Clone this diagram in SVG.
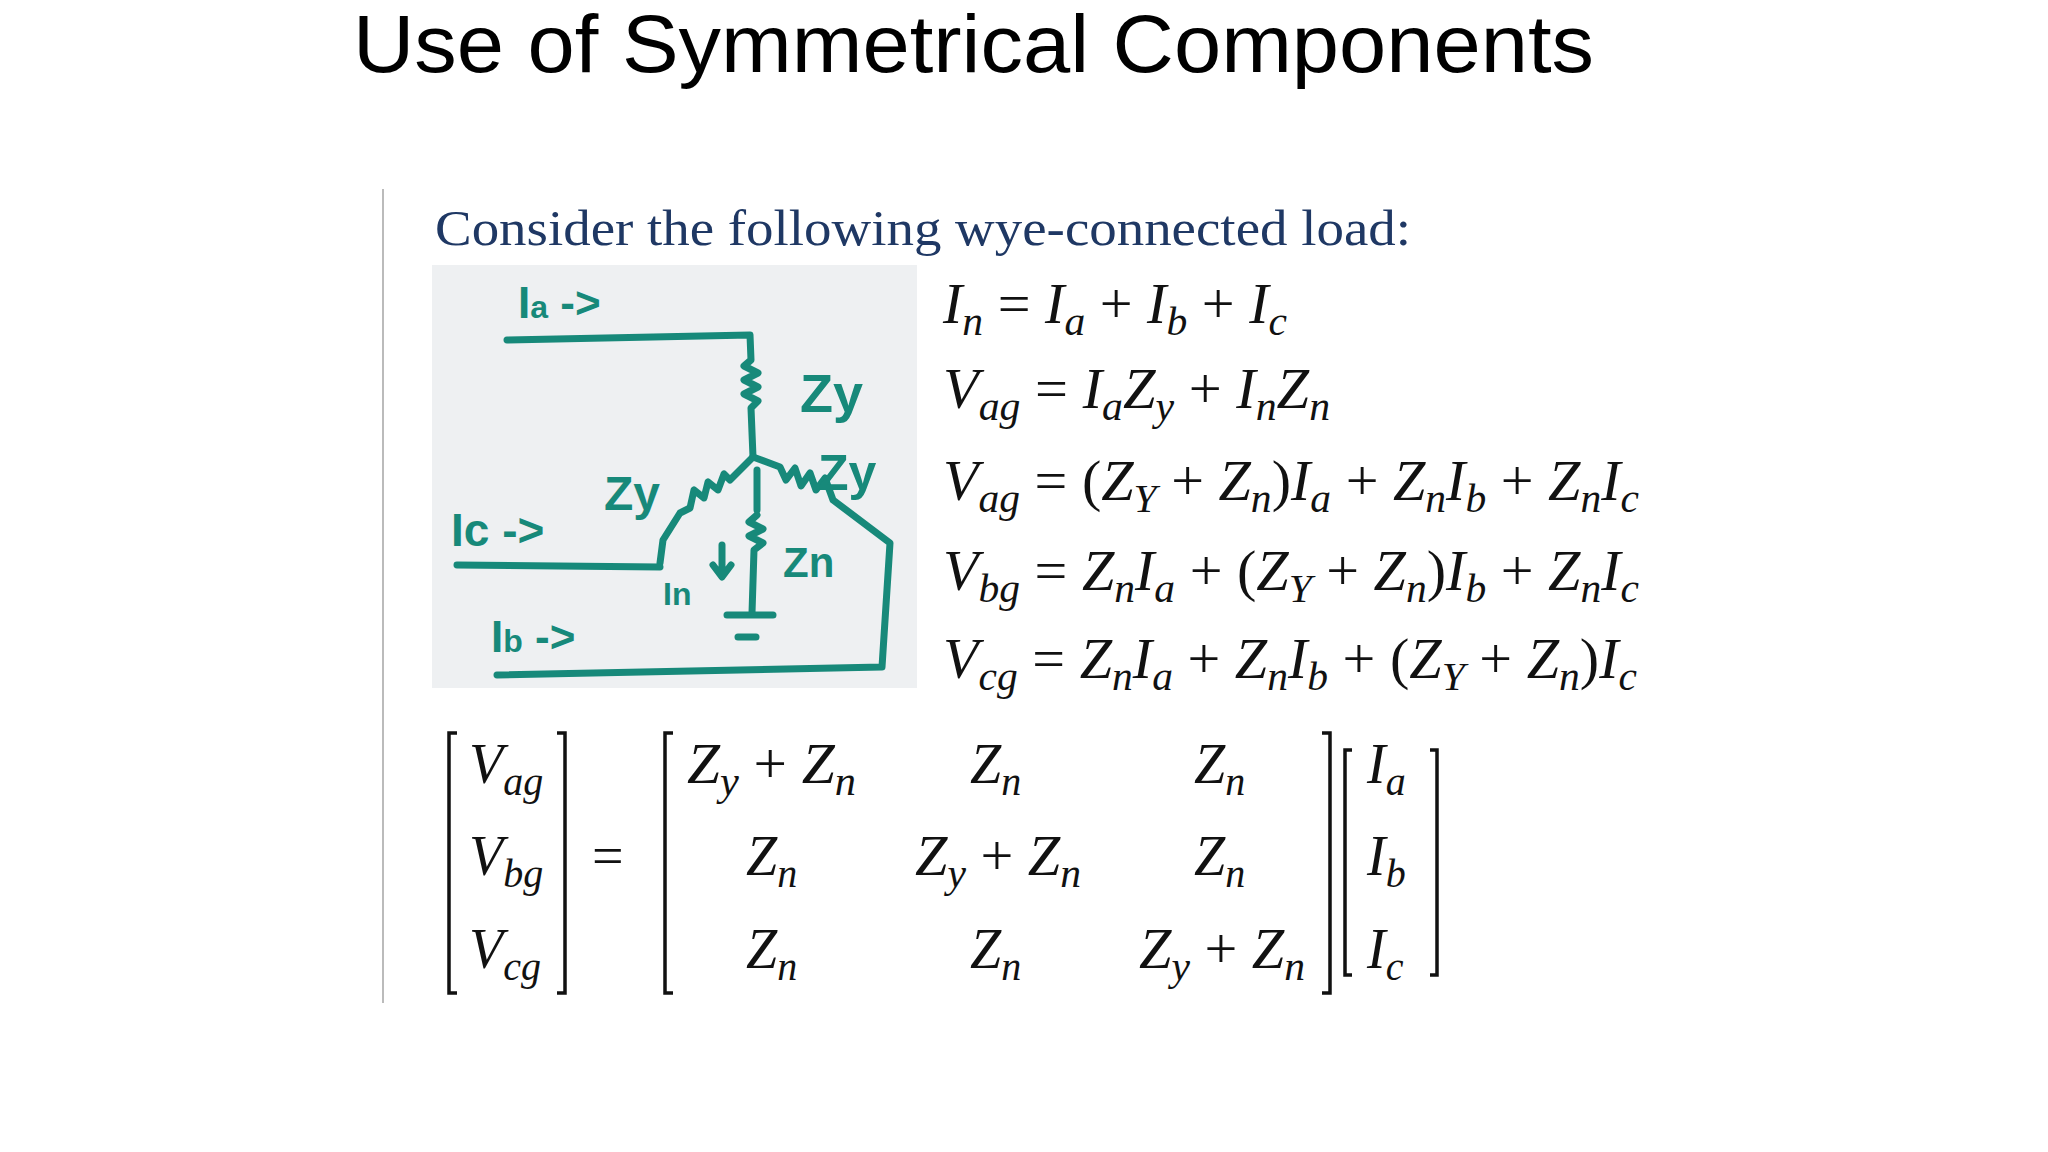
<svg xmlns="http://www.w3.org/2000/svg" width="2048" height="1152" viewBox="0 0 2048 1152">
<style>
.w{fill:none;stroke:#17897a;stroke-width:7;stroke-linecap:round;stroke-linejoin:round}
.h{font-family:"Liberation Sans",sans-serif;font-weight:bold;fill:#17897a}
.m{font-family:"Liberation Serif",serif;font-style:italic;fill:#111;font-size:56px}
.r{font-family:"Liberation Serif",serif;font-style:normal}
.br{fill:none;stroke:#111;stroke-width:3.5}
</style>
<rect width="2048" height="1152" fill="#fff"/>
<text x="353" y="72" font-family="Liberation Sans, sans-serif" font-size="82" fill="#000" textLength="1241" lengthAdjust="spacingAndGlyphs">Use of Symmetrical Components</text>
<line x1="383" y1="189" x2="383" y2="1003" stroke="#bbb" stroke-width="2"/>
<text x="435" y="245" font-family="Liberation Serif, serif" font-size="50" fill="#1f3864" textLength="976" lengthAdjust="spacingAndGlyphs">Consider the following wye-connected load:</text>
<g id="sketch">
<rect x="432" y="265" width="485" height="423" fill="#eef0f2"/>
<path class="w" d="M507,340 L750,335 L751,360 L744,366 L758,373 L744,380 L758,387 L744,394 L758,401 L751,408 L753,457"/>
<path class="w" d="M753,457 L730,480 L724,474 L718,490 L708,482 L704,498 L694,490 L690,508 L680,513 L663,540 L660,563"/>
<path class="w" d="M457,565 L660,567"/>
<path class="w" d="M753,457 L780,467 L786,480 L795,468 L801,486 L810,473 L816,490 L825,478 L833,500 L890,543 L882,667 L497,675"/>
<path class="w" d="M757,470 L757,510 M757,515 L749,522 L763,529 L749,536 L763,543 L754,550 L752,613 M727,615 L773,615 M738,637 L756,637"/>
<text class="h" x="518" y="318" font-size="44">I<tspan font-size="32">a</tspan> -&gt;</text>
<text class="h" x="800" y="412" font-size="54">Zy</text>
<text class="h" x="818" y="490" font-size="50">Zy</text>
<text class="h" x="604" y="510" font-size="48">Zy</text>
<text class="h" x="451" y="546" font-size="46">Ic -&gt;</text>
<text class="h" x="783" y="577" font-size="42">Zn</text>
<text class="h" x="663" y="605" font-size="32">In</text>
<path class="w" d="M722,545 L722,575 M713,565 L722,577 L731,565"/>
<text class="h" x="491" y="652" font-size="44">I<tspan font-size="32">b</tspan> -&gt;</text>
</g>
<g id="equations" class="m">
<text x="943" y="323" textLength="344" lengthAdjust="spacingAndGlyphs">I<tspan font-size="40" dy="12">n</tspan><tspan dy="-12" class="r"> = </tspan>I<tspan font-size="40" dy="12">a</tspan><tspan dy="-12" class="r"> + </tspan>I<tspan font-size="40" dy="12">b</tspan><tspan dy="-12" class="r"> + </tspan>I<tspan font-size="40" dy="12">c</tspan></text>
<text x="943" y="408" textLength="387" lengthAdjust="spacingAndGlyphs">V<tspan font-size="40" dy="12">ag</tspan><tspan dy="-12" class="r"> = </tspan>I<tspan font-size="40" dy="12">a</tspan><tspan dy="-12">Z</tspan><tspan font-size="40" dy="12">y</tspan><tspan dy="-12" class="r"> + </tspan>I<tspan font-size="40" dy="12">n</tspan><tspan dy="-12">Z</tspan><tspan font-size="40" dy="12">n</tspan></text>
<text x="943" y="500" textLength="696" lengthAdjust="spacingAndGlyphs">V<tspan font-size="40" dy="12">ag</tspan><tspan dy="-12" class="r"> = (</tspan>Z<tspan font-size="40" dy="12">Y</tspan><tspan dy="-12" class="r"> + </tspan>Z<tspan font-size="40" dy="12">n</tspan><tspan dy="-12" class="r">)</tspan>I<tspan font-size="40" dy="12">a</tspan><tspan dy="-12" class="r"> + </tspan>Z<tspan font-size="40" dy="12">n</tspan><tspan dy="-12">I</tspan><tspan font-size="40" dy="12">b</tspan><tspan dy="-12" class="r"> + </tspan>Z<tspan font-size="40" dy="12">n</tspan><tspan dy="-12">I</tspan><tspan font-size="40" dy="12">c</tspan></text>
<text x="943" y="590" textLength="696" lengthAdjust="spacingAndGlyphs">V<tspan font-size="40" dy="12">bg</tspan><tspan dy="-12" class="r"> = </tspan>Z<tspan font-size="40" dy="12">n</tspan><tspan dy="-12">I</tspan><tspan font-size="40" dy="12">a</tspan><tspan dy="-12" class="r"> + (</tspan>Z<tspan font-size="40" dy="12">Y</tspan><tspan dy="-12" class="r"> + </tspan>Z<tspan font-size="40" dy="12">n</tspan><tspan dy="-12" class="r">)</tspan>I<tspan font-size="40" dy="12">b</tspan><tspan dy="-12" class="r"> + </tspan>Z<tspan font-size="40" dy="12">n</tspan><tspan dy="-12">I</tspan><tspan font-size="40" dy="12">c</tspan></text>
<text x="943" y="678" textLength="694" lengthAdjust="spacingAndGlyphs">V<tspan font-size="40" dy="12">cg</tspan><tspan dy="-12" class="r"> = </tspan>Z<tspan font-size="40" dy="12">n</tspan><tspan dy="-12">I</tspan><tspan font-size="40" dy="12">a</tspan><tspan dy="-12" class="r"> + </tspan>Z<tspan font-size="40" dy="12">n</tspan><tspan dy="-12">I</tspan><tspan font-size="40" dy="12">b</tspan><tspan dy="-12" class="r"> + (</tspan>Z<tspan font-size="40" dy="12">Y</tspan><tspan dy="-12" class="r"> + </tspan>Z<tspan font-size="40" dy="12">n</tspan><tspan dy="-12" class="r">)</tspan>I<tspan font-size="40" dy="12">c</tspan></text>
</g>
<g id="matrix" class="m" font-size="54">
<path class="br" d="M457,733 L449,733 L449,993 L457,993 M557,733 L565,733 L565,993 L557,993"/>
<path class="br" d="M673,733 L665,733 L665,993 L673,993 M1322,733 L1330,733 L1330,993 L1322,993"/>
<path class="br" d="M1352,750 L1345,750 L1345,975 L1352,975 M1430,750 L1437,750 L1437,975 L1430,975"/>
<text x="469" y="783">V<tspan font-size="40" dy="12">ag</tspan></text>
<text x="469" y="875">V<tspan font-size="40" dy="12">bg</tspan></text>
<text x="469" y="968">V<tspan font-size="40" dy="12">cg</tspan></text>
<text x="592" y="875" class="r">=</text>
<text x="687" y="783" textLength="169" lengthAdjust="spacingAndGlyphs">Z<tspan font-size="40" dy="12">y</tspan><tspan dy="-12" class="r"> + </tspan>Z<tspan font-size="40" dy="12">n</tspan></text>
<text x="970" y="783">Z<tspan font-size="40" dy="12">n</tspan></text>
<text x="1194" y="783">Z<tspan font-size="40" dy="12">n</tspan></text>
<text x="746" y="875">Z<tspan font-size="40" dy="12">n</tspan></text>
<text x="915" y="875" textLength="166" lengthAdjust="spacingAndGlyphs">Z<tspan font-size="40" dy="12">y</tspan><tspan dy="-12" class="r"> + </tspan>Z<tspan font-size="40" dy="12">n</tspan></text>
<text x="1194" y="875">Z<tspan font-size="40" dy="12">n</tspan></text>
<text x="746" y="968">Z<tspan font-size="40" dy="12">n</tspan></text>
<text x="970" y="968">Z<tspan font-size="40" dy="12">n</tspan></text>
<text x="1139" y="968" textLength="166" lengthAdjust="spacingAndGlyphs">Z<tspan font-size="40" dy="12">y</tspan><tspan dy="-12" class="r"> + </tspan>Z<tspan font-size="40" dy="12">n</tspan></text>
<text x="1367" y="783">I<tspan font-size="40" dy="12">a</tspan></text>
<text x="1367" y="875">I<tspan font-size="40" dy="12">b</tspan></text>
<text x="1367" y="968">I<tspan font-size="40" dy="12">c</tspan></text>
</g>
</svg>
